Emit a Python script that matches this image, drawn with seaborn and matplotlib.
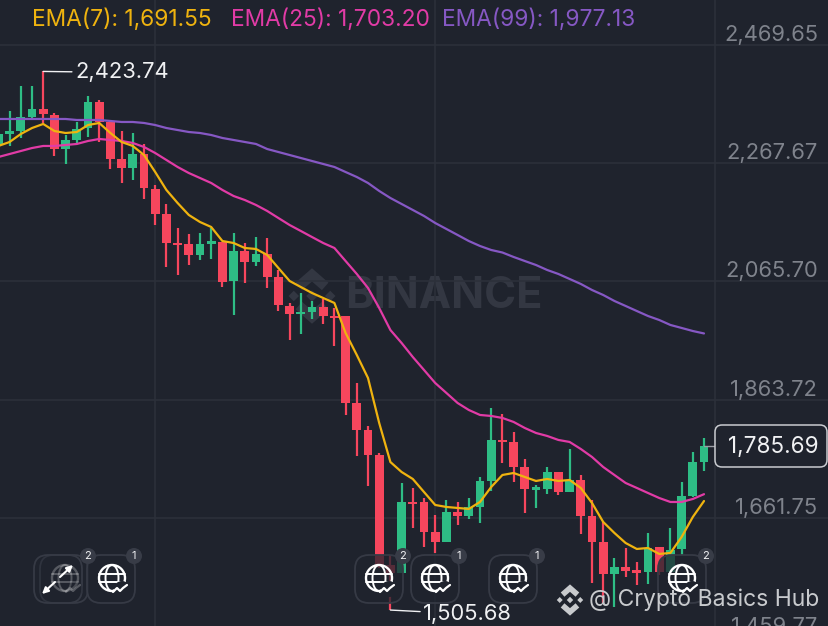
import numpy as np
import pandas as pd
import seaborn as sns
import matplotlib.pyplot as plt
from matplotlib.patches import FancyBboxPatch, Circle, Ellipse, Polygon

# candle data
opens = [2298.4, 2317.1, 2322.2, 2346.1, 2359.7, 2349.5, 2291.5, 2306.9, 2327.3, 2371.6,
         2337.6, 2274.5, 2259.2, 2283.0, 2223.4, 2180.8, 2131.3, 2129.6, 2110.9, 2129.6,
         2133.0, 2066.6, 2117.7, 2099.0, 2112.6, 2073.4, 2024.0, 2010.3, 2013.7, 2022.3,
         2006.9, 2006.9, 1858.6, 1812.6, 1770.0, 1582.5, 1568.9, 1689.9, 1689.9, 1638.8,
         1621.7, 1672.9, 1666.0, 1681.4, 1725.7, 1795.6, 1792.2, 1749.5, 1710.3, 1712.0,
         1741.0, 1706.9, 1727.4, 1666.0, 1621.7, 1567.2, 1579.1, 1574.0, 1570.6, 1613.2,
         1570.6, 1609.8, 1700.1, 1758.0]
closes = [2317.1, 2322.7, 2346.1, 2359.7, 2351.2, 2291.5, 2306.9, 2325.6, 2371.6, 2337.6,
          2274.5, 2259.2, 2283.0, 2225.1, 2180.8, 2131.3, 2127.9, 2110.9, 2129.6, 2134.7,
          2064.9, 2117.7, 2099.0, 2112.6, 2073.4, 2025.7, 2010.3, 2013.7, 2022.3, 2006.9,
          2003.5, 1858.6, 1812.6, 1770.0, 1582.5, 1568.9, 1689.9, 1686.5, 1638.8, 1621.7,
          1672.9, 1666.0, 1681.4, 1725.7, 1795.6, 1792.2, 1749.5, 1712.0, 1715.4, 1741.0,
          1706.9, 1727.4, 1666.0, 1621.7, 1567.2, 1579.1, 1572.3, 1568.9, 1611.5, 1570.6,
          1608.1, 1700.1, 1758.0, 1785.69]
highs = [2332.4, 2356.3, 2398.9, 2398.9, 2423.74, 2352.9, 2315.4, 2337.6, 2381.9, 2375.1,
         2337.6, 2322.2, 2318.8, 2300.1, 2230.2, 2197.8, 2156.9, 2146.7, 2148.4, 2156.9,
         2133.0, 2148.4, 2131.3, 2141.5, 2139.8, 2085.3, 2029.1, 2046.1, 2032.5, 2035.9,
         2020.5, 2006.9, 1892.7, 1819.4, 1773.4, 1599.5, 1722.3, 1713.8, 1696.7, 1667.7,
         1693.3, 1689.9, 1696.7, 1732.5, 1850.1, 1839.9, 1809.2, 1763.2, 1718.9, 1749.5,
         1741.0, 1780.2, 1735.9, 1693.3, 1655.8, 1594.4, 1611.5, 1587.6, 1637.1, 1613.2,
         1645.6, 1724.0, 1775.1, 1799.0]
lows = [2289.8, 2296.7, 2310.3, 2344.4, 2335.9, 2279.6, 2266.0, 2301.8, 2312.0, 2303.5,
        2257.5, 2233.6, 2238.7, 2206.3, 2162.0, 2090.4, 2076.8, 2093.8, 2102.4, 2104.1,
        2056.3, 2008.6, 2063.2, 2092.1, 2054.6, 2015.4, 1966.0, 1976.2, 2001.8, 1993.3,
        1955.8, 1838.2, 1768.3, 1717.2, 1577.4, 1505.68, 1568.9, 1645.6, 1613.2, 1603.0,
        1621.7, 1650.7, 1660.9, 1654.1, 1708.6, 1756.4, 1724.0, 1671.2, 1679.7, 1703.5,
        1701.8, 1706.9, 1635.4, 1551.8, 1517.8, 1510.9, 1562.1, 1548.4, 1550.1, 1565.5,
        1565.5, 1599.5, 1698.4, 1742.7]

ema7 = [2296.7, 2303.5, 2317.1, 2327.3, 2334.2, 2322.2, 2318.8, 2320.5, 2332.4, 2335.9,
        2318.8, 2303.5, 2296.7, 2281.3, 2252.3, 2221.7, 2199.5, 2179.1, 2167.1, 2158.6,
        2134.7, 2131.3, 2122.8, 2121.1, 2110.9, 2088.7, 2066.6, 2056.3, 2046.1, 2037.6,
        2029.1, 1977.9, 1940.4, 1901.2, 1824.5, 1758.0, 1741.0, 1729.1, 1706.9, 1684.8,
        1681.4, 1679.7, 1678.0, 1689.9, 1715.4, 1735.9, 1739.3, 1732.5, 1725.7, 1729.1,
        1725.7, 1727.4, 1713.7, 1688.2, 1655.8, 1637.1, 1620.0, 1609.8, 1611.5, 1601.3,
        1603.0, 1630.2, 1664.3, 1691.55]
ema25 = [2277.9, 2283.0, 2288.1, 2293.2, 2296.7, 2296.7, 2298.4, 2300.1, 2305.2, 2308.6,
         2306.9, 2305.2, 2301.8, 2295.0, 2284.7, 2272.8, 2260.9, 2250.6, 2242.1, 2233.6,
         2221.7, 2211.4, 2204.6, 2196.1, 2185.9, 2173.9, 2162.0, 2151.8, 2141.5, 2131.3,
         2122.8, 2100.6, 2078.5, 2054.6, 2020.5, 1983.0, 1960.9, 1937.0, 1914.9, 1892.7,
         1875.7, 1858.6, 1846.7, 1838.2, 1836.5, 1833.1, 1826.3, 1816.0, 1807.5, 1802.4,
         1795.6, 1792.2, 1780.2, 1766.6, 1749.5, 1735.9, 1722.3, 1713.8, 1705.2, 1696.7,
         1689.9, 1689.9, 1695.0, 1703.2]
ema99 = [2342.7, 2342.7, 2342.7, 2342.7, 2342.7, 2342.7, 2342.7, 2341.0, 2341.0, 2341.0,
         2339.3, 2337.6, 2337.6, 2335.9, 2332.4, 2327.3, 2323.9, 2320.5, 2318.8, 2315.4,
         2310.3, 2306.9, 2303.5, 2300.1, 2291.5, 2286.4, 2281.3, 2276.2, 2271.1, 2266.0,
         2260.9, 2252.3, 2243.8, 2233.6, 2220.0, 2208.0, 2197.8, 2187.6, 2177.4, 2165.4,
         2155.2, 2145.0, 2134.7, 2126.2, 2119.4, 2115.1, 2107.5, 2100.6, 2093.8, 2085.3,
         2078.5, 2070.0, 2061.5, 2051.2, 2042.7, 2032.5, 2024.0, 2015.4, 2006.9, 2000.1,
         1991.6, 1986.5, 1981.3, 1977.13]

price_ticks = [2469.65, 2267.67, 2065.70, 1863.72, 1661.75, 1459.77]
time_grid = [14, 39, 64]
last_price = 1785.69
high_price = 2423.74
low_price = 1505.68

BG = '#1f232d'
GRID = '#2c303a'
GREEN = '#2ebd85'
RED = '#f6465d'
YELLOW = '#efb30f'
PINK = '#e13ba6'
PURPLE = '#8658c4'
GRAY = '#7f838c'
WHITE = '#f0f1f3'
MARK = '#333742'

sns.set_theme(style="dark")
plt.rcParams['font.family'] = ['Inter', 'DejaVu Sans']
FS = 15.8

df = pd.DataFrame({'i': np.arange(len(opens)), 'open': opens, 'close': closes,
                   'high': highs, 'low': lows, 'EMA7': ema7, 'EMA25': ema25, 'EMA99': ema99})

fig = plt.figure(figsize=(8.29, 6.26), dpi=100, facecolor=BG)

# pixel axes behind the chart, for the watermark
back = fig.add_axes([0, 0, 1, 1], facecolor=BG, zorder=0)
back.set_xlim(0, 829)
back.set_ylim(626, 0)
back.axis('off')

ax = fig.add_axes([0, 0, 1, 1], facecolor='none', zorder=1)
ax.set_xlim(0.143, 74.16)
ax.set_ylim(1478.5, 2545.5)
ax.axis('off')

# pixel axes in front, for the app's decorations
ov = fig.add_axes([0, 0, 1, 1], facecolor='none', zorder=2)
ov.set_xlim(0, 829)
ov.set_ylim(626, 0)
ov.axis('off')

# grid
for p in price_ticks:
    ax.axhline(p, color=GRID, lw=1.2, zorder=1)
for t in time_grid:
    ax.axvline(t, color=GRID, lw=1.2, zorder=1)

# candles
up = df['close'] >= df['open']
colors = np.where(up, GREEN, RED)
ax.vlines(df['i'], df['low'], df['high'], colors=colors, lw=1.6, zorder=2)
ax.bar(df['i'], (df['close'] - df['open']).abs().clip(lower=3),
       bottom=df[['open', 'close']].min(axis=1), width=0.8, color=colors, linewidth=0, zorder=3)

# EMAs
for name, col in [('EMA99', PURPLE), ('EMA25', PINK), ('EMA7', YELLOW)]:
    sns.lineplot(data=df, x='i', y=name, color=col, lw=1.6, ax=ax, zorder=4)
ax.set_xlabel('')
ax.set_ylabel('')

# price labels on the right
for p in price_ticks:
    ax.annotate(f'{p:,.2f}', xy=(818, p), xycoords=('figure pixels', 'data'), xytext=(0, 10),
                textcoords='offset pixels', ha='right', va='center', color=GRAY, fontsize=FS)

# high / low markers
ax.annotate(f'{high_price:,.2f}', xy=(4, high_price), xytext=(32, -1), textcoords='offset pixels',
            va='center', color=WHITE, fontsize=FS,
            arrowprops=dict(arrowstyle='-', color=WHITE, lw=1, shrinkA=0, shrinkB=0))
ax.annotate(f'{low_price:,.2f}', xy=(35, low_price), xytext=(33, -4), textcoords='offset pixels',
            va='center', color=WHITE, fontsize=FS,
            arrowprops=dict(arrowstyle='-', color=WHITE, lw=1, shrinkA=0, shrinkB=0))


def logo(a, cx, cy, r, col, z=5):
    # binance style mark: centre and side diamonds, chevrons above and below
    for dx, size in [(0, 0.24), (-0.76, 0.22), (0.76, 0.22)]:
        x0 = cx + dx * r
        rr = size * r
        a.add_patch(Polygon([(x0 - rr, cy), (x0, cy - rr), (x0 + rr, cy), (x0, cy + rr)],
                            closed=True, fc=col, ec='none', zorder=z))
    lw = r * 0.3
    for sign in (-1, 1):
        a.plot([cx - 0.55 * r, cx, cx + 0.55 * r],
               [cy + sign * 0.4 * r, cy + sign * 0.88 * r, cy + sign * 0.4 * r],
               color=col, lw=lw, solid_joinstyle='miter', solid_capstyle='butt', zorder=z)


def globe(cx, cy, alpha=1.0):
    c = (1, 1, 1, alpha)
    ov.add_patch(Circle((cx, cy - 1), 13, fc='none', ec=c, lw=1.7, zorder=7))
    ov.add_patch(Ellipse((cx, cy - 1), 13, 26, fc='none', ec=c, lw=1.4, zorder=7))
    ov.plot([cx - 13, cx + 13], [cy - 5, cy - 5], color=c, lw=1.4, zorder=7)
    ov.plot([cx - 13, cx + 13], [cy + 3, cy + 3], color=c, lw=1.4, zorder=7)
    ov.add_patch(Circle((cx + 10, cy + 10), 8, fc=BG, ec='none', alpha=alpha, zorder=7.5))
    ov.plot([cx + 1, cx + 5, cx + 8, cx + 11, cx + 15], [cy + 13, cy + 9, cy + 12, cy + 9, cy + 6],
            color=c, lw=1.6, zorder=8)


def box(cx, cy, box_alpha=0.75):
    ov.add_patch(FancyBboxPatch((cx - 16, cy - 16), 32, 32, boxstyle='round,pad=8,rounding_size=14',
                                fc=(0.12, 0.14, 0.18, box_alpha), ec='#363a45', lw=1.3, zorder=6))


def count(cx, cy, num):
    ov.add_patch(Circle((cx + 24, cy - 23), 8, fc='#383c47', ec='none', zorder=8))
    ov.text(cx + 24, cy - 23, num, color=WHITE, fontsize=8, ha='center', va='center', zorder=9)


# watermark under the candles
logo(back, 312, 296, 24, MARK)
back.text(345, 296, 'BINANCE', color=MARK, fontsize=31.2, fontweight='bold', va='center')

for cx, num in [(379, '2'), (435, '1'), (513, '1'), (682, '2')]:
    box(cx, 579)
    globe(cx, 579)
    count(cx, 579, num)

# left cluster
box(64, 579)
globe(65, 579, alpha=0.25)
count(64, 579, '2')
box(58, 579, box_alpha=0.3)
ov.annotate('', xy=(73, 565), xytext=(60, 577),
            arrowprops=dict(arrowstyle='-|>', color='white', lw=1.5, mutation_scale=9, shrinkA=0, shrinkB=0), zorder=9)
ov.annotate('', xy=(42, 594), xytext=(55, 582),
            arrowprops=dict(arrowstyle='-|>', color='white', lw=1.5, mutation_scale=9, shrinkA=0, shrinkB=0), zorder=9)
box(111, 579)
globe(112, 579)
count(110, 579, '1')

# legend row
for x, label, col in [(32, 'EMA(7): 1,691.55', YELLOW), (231, 'EMA(25): 1,703.20', PINK),
                      (442, 'EMA(99): 1,977.13', PURPLE)]:
    ov.text(x, 20, label, color=col, fontsize=16.4, va='center')

# current price box
ov.plot([704, 715], [446, 446], color='#9a9da4', lw=1, zorder=5)
ov.add_patch(FancyBboxPatch((721, 431), 100, 30, boxstyle='round,pad=6,rounding_size=7',
                            fc=BG, ec='#c9cbd0', lw=1.1, zorder=6))
ov.text(773.5, 447, f'{last_price:,.2f}', color=WHITE, fontsize=16.2, ha='center', va='center', zorder=7)

# credit bottom right
logo(ov, 570, 600, 13.5, '#c8cacd', z=9)
ov.text(589, 600, '@ Crypto Basics Hub', color='#c8cacd', fontsize=16.5, va='center', zorder=9)

fig.savefig('out.png', dpi=100, facecolor=BG)
